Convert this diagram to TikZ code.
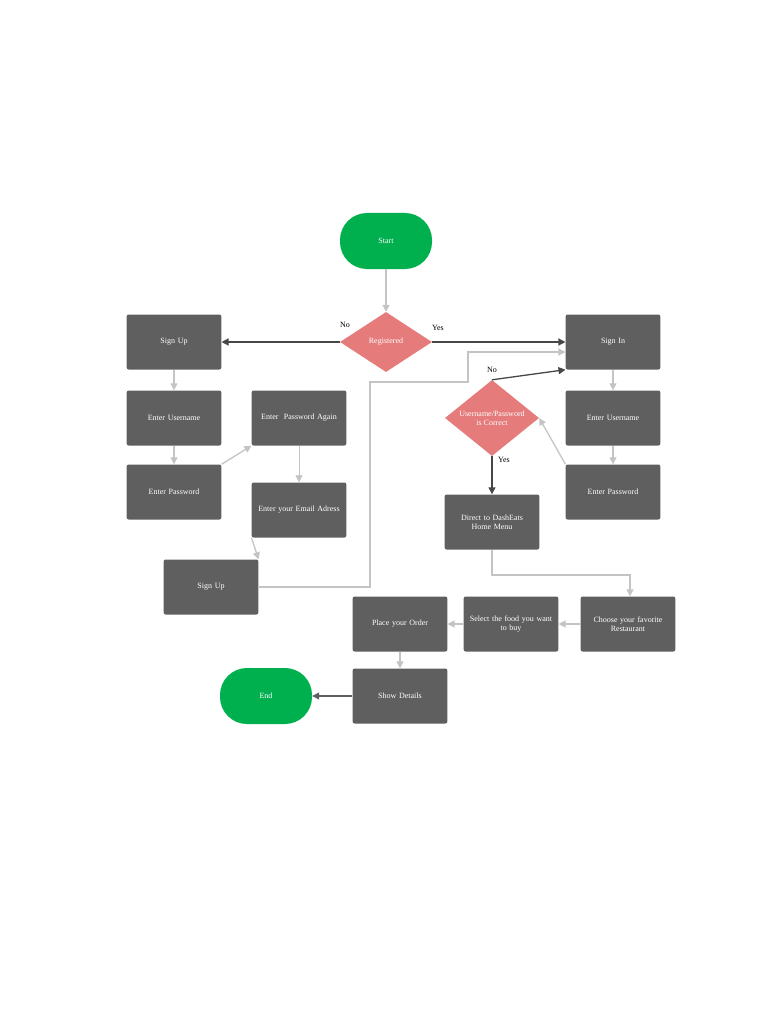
\documentclass[tikz,border=0pt]{standalone}
\usepackage{fontspec}
\setmainfont{Liberation Serif}
\usetikzlibrary{shapes.geometric,arrows.meta}
\definecolor{boxc}{HTML}{5F5F5F}
\definecolor{grn}{HTML}{00B04F}
\definecolor{dia}{HTML}{E57B7B}
\definecolor{lg}{HTML}{C4C4C4}
\definecolor{dk}{HTML}{474747}
\begin{document}
\begin{tikzpicture}[x=1pt,y=-1pt,
 box/.style={draw=none,fill=boxc,rounded corners=2pt,minimum width=92pt,minimum height=55pt,text=white,font=\fontsize{8}{9}\selectfont,align=center,text width=88pt},
 term/.style={fill=grn,rounded corners=27pt,minimum width=92pt,minimum height=56pt,text=white,font=\fontsize{8}{9}\selectfont},
 dec/.style={diamond,fill=dia,aspect=1.5,inner sep=0pt,text=white,font=\fontsize{8}{9}\selectfont,align=center},
 lgar/.style={draw=lg,line width=1.3pt,-{Triangle[length=7pt,width=7pt]}},
 dkar/.style={draw=dk,line width=1.3pt,-{Triangle[length=7pt,width=7pt]}},
 lab/.style={font=\fontsize{8}{9}\selectfont}]
\useasboundingbox (0,0) rectangle (768,1024);
\node[term] (start) at (386,241) {Start};
\node[dec,minimum width=92pt,minimum height=60pt] (reg) at (386,342) {Registered};
\node[box] (su1) at (174,342) {Sign Up};
\node[box] (eu1) at (174,418) {Enter Username};
\node[box] (ep1) at (174,492) {Enter Password};
\node[box] (epa) at (299,418) {Enter\ \ Password Again};
\node[box] (em) at (299,510) {Enter your Email Adress};
\node[box] (su2) at (211,587) {Sign Up};
\node[box] (si) at (613,342) {Sign In};
\node[box] (eu2) at (613,418) {Enter Username};
\node[box] (ep2) at (613,492) {Enter Password};
\node[dec,minimum width=94pt,minimum height=76pt] (up) at (492,418) {Username/Password\\is Correct};
\node[box] (dir) at (492,522) {Direct to DashEats\\Home Menu};
\node[box] (ch) at (628,624) {Choose your favorite\\Restaurant};
\node[box] (sel) at (511,624) {Select the food you want\\to buy};
\node[box] (pl) at (400,624) {Place your Order};
\node[box] (sh) at (400,696) {Show Details};
\node[term] (end) at (266,696) {End};
\coordinate (c1) at (370,587); \coordinate (c2) at (370,382);
\coordinate (c3) at (468,382); \coordinate (c4) at (468,352);
\coordinate (d1) at (492,575); \coordinate (d2) at (630,575);
\draw[lgar] (start) -- (reg);
\draw[dkar] (reg) -- (su1);
\draw[dkar] (reg) -- (si);
\node[lab] at (345,325) {No};
\node[lab] at (438,328) {Yes};
\draw[lgar] (su1) -- (eu1);
\draw[lgar] (eu1) -- (ep1);
\draw[lgar] (ep1.north east) -- (epa.south west);
\draw[lgar,line width=0.8pt] (epa) -- (em);
\draw[lgar] (em.south west) -- (su2.north east);
\draw[lgar] (su2.east) -- (c1) -- (c2) -- (c3) -- (c4) -- (si.west |- c4);
\draw[lgar] (si) -- (eu2);
\draw[lgar] (eu2) -- (ep2);
\draw[lgar] (ep2.north west) -- (up.east);
\draw[dkar] (up.north) -- (si.south west);
\node[lab] at (492,370) {No};
\draw[dkar] (up.south) -- (dir);
\node[lab] at (504,460) {Yes};
\draw[lgar] (dir.south) -- (d1) -- (d2) -- (ch.north -| d2);
\draw[lgar] (ch) -- (sel);
\draw[lgar] (sel) -- (pl);
\draw[lgar] (pl) -- (sh);
\draw[dkar,draw=boxc] (sh) -- (end);
\end{tikzpicture}
\end{document}
